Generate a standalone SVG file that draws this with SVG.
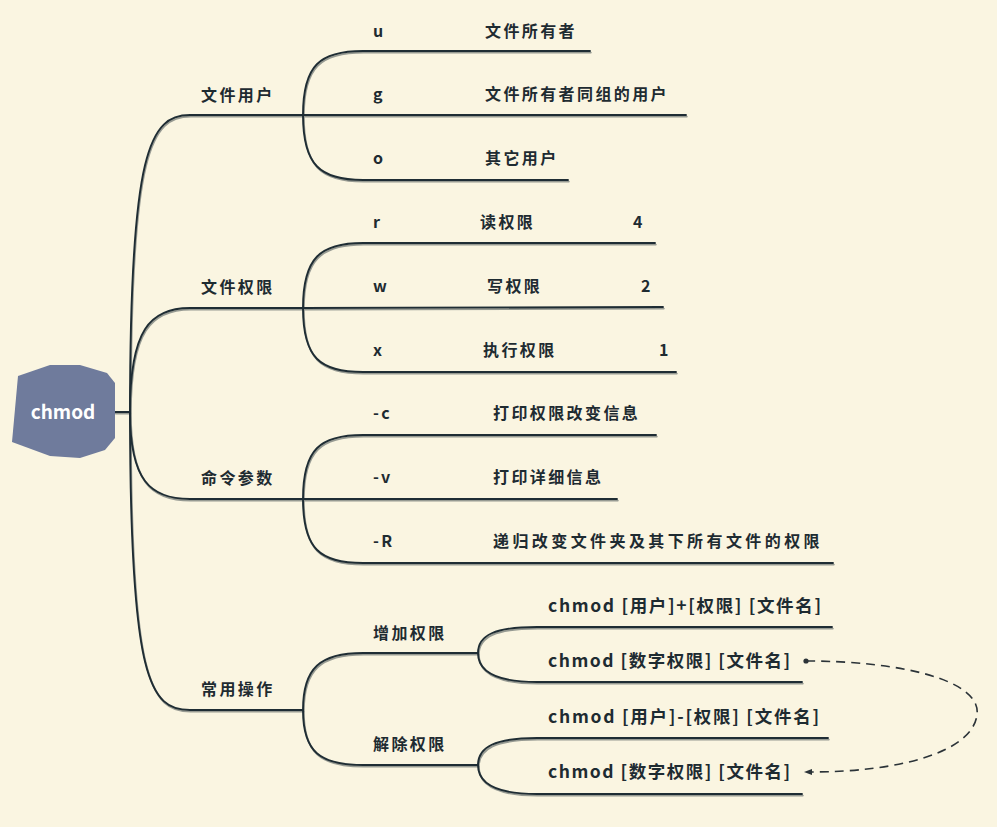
<svg xmlns="http://www.w3.org/2000/svg" xmlns:xlink="http://www.w3.org/1999/xlink" width="997" height="827" viewBox="0 0 997 827">
<style>
.t{font-family:"Noto Sans CJK SC","Liberation Sans",sans-serif;font-size:16px;font-weight:bold;fill:#1e2b31;letter-spacing:2.4px}
.c{font-size:17.5px;letter-spacing:1px}
.ln{fill:none;stroke:#1f2d34;stroke-width:1.9;stroke-linecap:round}
.dash{fill:none;stroke:#2b3338;stroke-width:1.6;stroke-dasharray:9 6}
</style>
<defs>
<marker id="dot" markerWidth="6" markerHeight="6" refX="3" refY="3" markerUnits="userSpaceOnUse"><circle cx="3" cy="3" r="2.6" fill="#2b3338"/></marker>
<marker id="arr" markerWidth="10" markerHeight="8" refX="2" refY="4" orient="auto" markerUnits="userSpaceOnUse"><path d="M0,1 L8,4 L0,7 z" fill="#2b3338"/></marker>
</defs>
<rect width="997" height="827" fill="#faf5e1"/>
<g id="connectors">
<g id="lines">
<path class="ln" d="M115,412 L130,412"/>
<path class="ln" d="M130,412 C130,150 150,115 190,115 L303,115"/>
<path class="ln" d="M130,412 C130,330 150,308 190,308 L303,308"/>
<path class="ln" d="M130,412 C130,480 150,499 190,499 L303,499"/>
<path class="ln" d="M130,412 C130,680 150,710 190,710 L303,710"/>
<path class="ln" d="M303,115 C303,65 320,51 363,51 L590,51"/>
<path class="ln" d="M303,115 L686,115"/>
<path class="ln" d="M303,115 C303,165 320,180 363,180 L568,180"/>
<path class="ln" d="M303,308 C303,258 320,243 363,243 L655,243"/>
<path class="ln" d="M303,308 L663,307"/>
<path class="ln" d="M303,308 C303,358 320,372 363,372 L676,372"/>
<path class="ln" d="M303,499 C303,449 320,435 363,435 L656,435"/>
<path class="ln" d="M303,499 L617,499"/>
<path class="ln" d="M303,499 C303,549 320,563 363,563 L833,563"/>
<path class="ln" d="M303,710 C303,668 320,653 363,653 L478,653"/>
<path class="ln" d="M303,710 C303,752 320,765 363,765 L478,765"/>
<path class="ln" d="M478,653 C478,635 495,627 537,627 L832,627"/>
<path class="ln" d="M478,653 C478,671 495,682 537,682 L802,682"/>
<path class="ln" d="M478,765 C478,747 495,738 537,738 L828,738"/>
<path class="ln" d="M478,765 C478,783 495,794 537,794 L802,794"/>
</g>
<use xlink:href="#lines" href="#lines" transform="translate(0.8,1.6)" opacity="0.45"/>
<path class="dash" d="M806,661 C900,661 982,680 977,715 C972,752 900,772 810,772" marker-start="url(#dot)" marker-end="url(#arr)"/>
</g>
<g id="root">
<polygon points="18,376 50,365 80,365 107,373 115,383 115,438 105,450 80,458 50,456 12,442" fill="#6f7b9c"/>
<text x="63" y="419" text-anchor="middle" style="font-family:'Noto Sans CJK SC','Liberation Sans',sans-serif;font-size:19px;font-weight:bold;fill:#ffffff">chmod</text>
</g>
<g id="n-users"><text class="t" x="201" y="101">文件用户</text></g>
<g id="n-perm"><text class="t" x="201" y="293">文件权限</text></g>
<g id="n-args"><text class="t" x="201" y="484">命令参数</text></g>
<g id="n-ops"><text class="t" x="201" y="695">常用操作</text></g>
<g id="n-u"><text class="t" x="373" y="37">u</text><text class="t" x="485" y="37">文件所有者</text></g>
<g id="n-g"><text class="t" x="373" y="100">g</text><text class="t" x="485" y="100">文件所有者同组的用户</text></g>
<g id="n-o"><text class="t" x="373" y="164">o</text><text class="t" x="485" y="164">其它用户</text></g>
<g id="n-r"><text class="t" x="373" y="228">r</text><text class="t" x="480" y="228">读权限</text><text class="t" x="633" y="228">4</text></g>
<g id="n-w"><text class="t" x="373" y="292">w</text><text class="t" x="487" y="292">写权限</text><text class="t" x="641" y="292">2</text></g>
<g id="n-x"><text class="t" x="373" y="356">x</text><text class="t" x="483" y="356">执行权限</text><text class="t" x="659" y="356">1</text></g>
<g id="n-c"><text class="t" x="373" y="419">-c</text><text class="t" x="493" y="419">打印权限改变信息</text></g>
<g id="n-v"><text class="t" x="373" y="483">-v</text><text class="t" x="493" y="483">打印详细信息</text></g>
<g id="n-R"><text class="t" x="373" y="547">-R</text><text class="t" x="493" y="547" textLength="329" lengthAdjust="spacing">递归改变文件夹及其下所有文件的权限</text></g>
<g id="n-add"><text class="t" x="373" y="639">增加权限</text></g>
<g id="n-del"><text class="t" x="373" y="750">解除权限</text></g>
<g id="n-add1"><text class="t c" x="548" y="612" textLength="274" lengthAdjust="spacing">chmod [用户]+[权限] [文件名]</text></g>
<g id="n-add2"><text class="t c" x="548" y="667" textLength="243" lengthAdjust="spacing">chmod [数字权限] [文件名]</text></g>
<g id="n-del1"><text class="t c" x="548" y="723" textLength="272" lengthAdjust="spacing">chmod [用户]-[权限] [文件名]</text></g>
<g id="n-del2"><text class="t c" x="548" y="778" textLength="243" lengthAdjust="spacing">chmod [数字权限] [文件名]</text></g>
</svg>
